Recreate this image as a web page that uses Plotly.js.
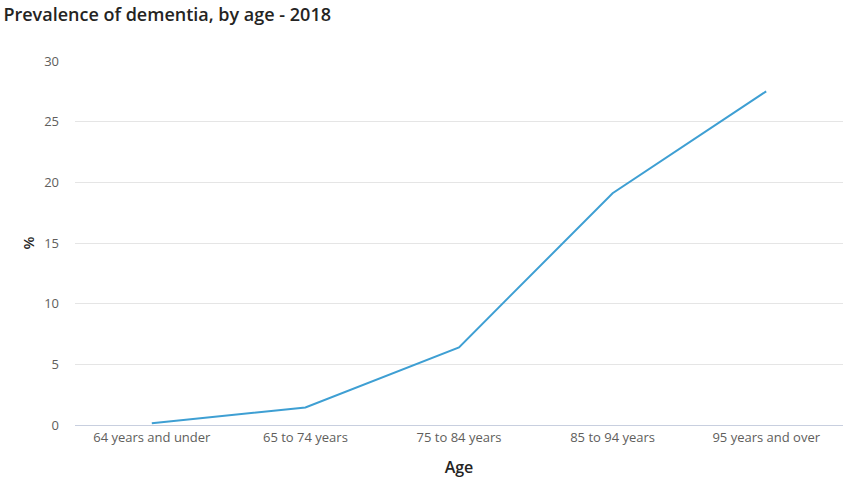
<!DOCTYPE html>
<html>
<head>
<meta charset="utf-8">
<script src="https://cdn.plot.ly/plotly-3.0.1.min.js"></script>
<style>html,body{margin:0;padding:0;background:#fff;}#chart{width:848px;height:482px;}</style>
</head>
<body>
<div id="chart"></div>
<script>
const categories = ["64 years and under", "65 to 74 years", "75 to 84 years", "85 to 94 years", "95 years and over"];
const prevalence = [0.15, 1.45, 6.4, 19.1, 27.5];
const yTicks = [0, 5, 10, 15, 20, 25, 30];

const FONT = "'Open Sans', 'Noto Sans', sans-serif";

Plotly.newPlot('chart', [{
  type: 'scatter',
  mode: 'lines',
  x: categories,
  y: prevalence,
  line: {color: '#3E9FD3', width: 2},
  hoverinfo: 'x+y'
}], {
  width: 848,
  height: 482,
  margin: {l: 75, r: 5, t: 61, b: 57},
  paper_bgcolor: '#ffffff',
  plot_bgcolor: '#ffffff',
  showlegend: false,
  font: {family: FONT, color: '#605E5C', size: 13},
  title: {
    text: 'Prevalence of dementia, by age - 2018',
    x: 0.004, xanchor: 'left', y: 0.982, yanchor: 'top',
    font: {family: FONT, size: 18, color: '#252423', weight: 600}
  },
  xaxis: {
    type: 'category',
    range: [-0.5, 4.5],
    tickvals: categories,
    showgrid: false,
    showline: true,
    linecolor: '#C8CFDF',
    linewidth: 1,
    ticks: '',
    tickfont: {family: FONT, size: 13, color: '#605E5C'},
    title: {text: 'Age', standoff: 17, font: {family: FONT, size: 16, color: '#252423', weight: 600}},
    zeroline: false,
    fixedrange: true
  },
  yaxis: {
    range: [0, 30],
    tickvals: yTicks,
    showgrid: true,
    gridcolor: '#E5E5E5',
    gridwidth: 1,
    zeroline: false,
    showline: false,
    ticks: '',
    ticklabelstandoff: 15,
    tickfont: {family: FONT, size: 13, color: '#605E5C'},
    title: {text: '%', standoff: 5, font: {family: FONT, size: 15, color: '#252423', weight: 600}},
    fixedrange: true
  }
}, {displayModeBar: false, staticPlot: true});
</script>
</body>
</html>
